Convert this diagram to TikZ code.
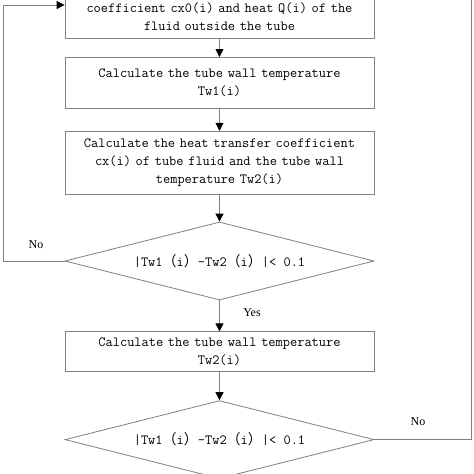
\documentclass[tikz,border=0pt]{standalone}
\usepackage{fontspec}
\setmainfont{Liberation Serif}
\newfontfamily\cjk{Noto Sans CJK SC}
\newcommand{\lp}{{\cjk （}}
\newcommand{\rp}{{\cjk ）}}
\usetikzlibrary{arrows.meta,positioning,shapes.geometric}

\begin{document}
\begin{tikzpicture}[x=1pt,y=-1pt,font=\ttfamily\fontsize{14}{18}\selectfont,
  box/.style={draw=gray,line width=0.8pt,text width=300pt,inner xsep=4.5pt,inner ysep=0pt,align=center},
  dec/.style={draw=gray,line width=0.8pt,diamond,aspect=3.96,minimum width=309pt,minimum height=78pt,inner sep=0pt,align=center},
  lab/.style={font=\rmfamily\fontsize{12}{14}\selectfont},
  line/.style={draw=gray,line width=0.8pt},
  arr/.style={line,-{Triangle[length=8pt,width=8pt,color=black]}}]
\useasboundingbox (0,0) rectangle (474,474);
\node[box,minimum height=52pt,anchor=south] (coef) at (219.5,39) {\mbox{}\\coefficient cx0(i) and heat Q(i) of the\\fluid outside the tube};
\node[box,minimum height=51pt,below=18pt of coef] (tw1) {Calculate the tube wall temperature\\Tw1(i)};
\node[box,minimum height=63pt,below=22pt of tw1] (cx) {Calculate the heat transfer coefficient\\cx(i) of tube fluid and the tube wall\\temperature Tw2(i)};
\node[dec,below=27pt of cx] (chk1) {|Tw1\lp i\rp -Tw2\lp i\rp |< 0.1};
\node[box,minimum height=40pt,below=31pt of chk1] (tw2) {Calculate the tube wall temperature\\Tw2(i)};
\node[dec,below=28pt of tw2] (chk2) {|Tw1\lp i\rp -Tw2\lp i\rp |< 0.1};
\node[lab] (no1) at (36,245) {No};
\node[lab] (yes) at (252,313) {Yes};
\node[lab] (no2) at (418,422) {No};
\coordinate (lft) at (3,5);
\coordinate (rgt) at (471,-20);
\draw[arr] (coef)--(tw1);
\draw[arr] (tw1)--(cx);
\draw[arr] (cx)--(chk1);
\draw[arr] (chk1)--(tw2);
\draw[arr] (tw2)--(chk2);
\draw[arr] (chk1.west)--(chk1.west -| lft)--(lft)--(lft -| coef.west);
\draw[line] (chk2.east)--(chk2.east -| rgt)--(rgt);
\end{tikzpicture}
\end{document}
